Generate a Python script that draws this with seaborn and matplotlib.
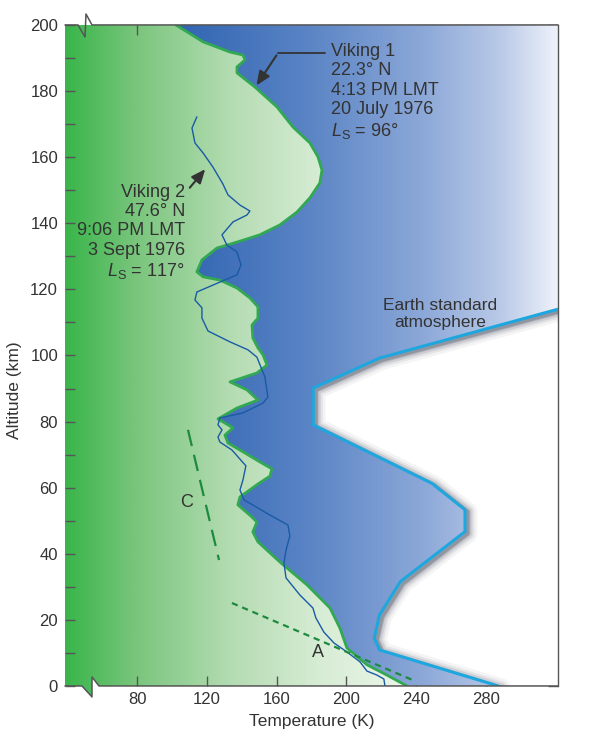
import numpy as np
import matplotlib
matplotlib.use("Agg")
import matplotlib.pyplot as plt
import seaborn as sns
from matplotlib.colors import LinearSegmentedColormap
from matplotlib.patches import Polygon

# Viking 1 profile (edge of the green area), top to bottom
v1_temp = [102.3, 117.8, 133.3, 140.7, 141.9, 137.3, 137.3, 147.6, 160.2, 169.4,
           179.1, 183.7, 186.0, 184.8, 179.1, 171.7, 161.9, 150.4, 137.3, 125.8,
           117.2, 114.3, 117.8, 127.5, 137.3, 144.7, 149.3, 149.3, 145.9, 146.4,
           149.3, 152.2, 154.5, 148.7, 133.3, 143.0, 149.3, 137.3, 126.4, 135.0,
           130.4, 132.1, 139.0, 150.4, 157.3, 156.2, 149.3, 139.0, 137.8, 145.9,
           148.7, 146.4, 149.3, 161.9, 177.4, 190.6, 196.3, 200.3, 211.8, 223.2, 234.7]
v1_alt = [200, 194.9, 191.8, 190.9, 189.4, 187.3, 185.5, 181.2, 175.2, 169.1,
          164.3, 160.1, 156.1, 152.2, 147.7, 143.4, 139.5, 136.5, 134.3, 132.5,
          128.9, 125.3, 123.8, 122.8, 120.4, 117.4, 114.7, 111.3, 109.2, 105.3,
          102.3, 100.2, 97.1, 94.7, 92.0, 89.6, 86.5, 84.1, 80.8, 78.1,
          75.9, 73.5, 71.4, 67.8, 65.7, 63.5, 61.1, 57.2, 54.8, 51.1,
          49.6, 46.6, 43.6, 37.5, 30.6, 23.6, 17.5, 11.5, 6.4, 3.3, 0]

# Viking 2 profile (thin blue line), top to bottom
v2_temp = [114.3, 111.5, 113.2, 117.8, 123.5, 129.2, 132.1, 139.0, 144.7, 143.0,
           135.0, 128.7, 131.5, 137.3, 139.6, 137.3, 127.5, 114.3, 113.2, 117.2,
           117.2, 120.7, 133.3, 143.6, 148.7, 153.3, 155.0, 152.2, 140.7, 127.5,
           126.4, 128.7, 126.4, 127.5, 134.4, 142.4, 140.7, 139.0, 141.3, 148.2,
           156.2, 166.5, 167.6, 165.4, 164.2, 165.4, 173.4, 180.8, 182.5, 187.1,
           192.9, 200.3, 207.8, 211.8, 217.5, 221.5, 222.1]
v2_alt = [172.2, 168.8, 164.3, 161.3, 157.0, 151.9, 148.6, 145.5, 143.7, 142.5,
          140.4, 136.5, 133.4, 131.3, 127.4, 124.4, 122.2, 119.2, 116.8, 114.4,
          111.3, 107.4, 104.1, 101.7, 99.5, 93.5, 87.4, 85.6, 82.6, 81.1,
          79.0, 77.5, 75.3, 73.8, 71.4, 66.6, 62.3, 59.3, 56.3, 54.2,
          51.7, 48.7, 45.4, 41.1, 37.2, 32.7, 27.5, 23.6, 20.6, 16.3,
          13.0, 10.3, 7.3, 4.5, 3.3, 2.1, 0]

# Earth standard atmosphere, bottom to top
earth_temp = [287, 219, 216, 219, 231, 268, 268, 249, 181, 181, 219, 321.3]
earth_alt = [0, 10.9, 14.5, 21.5, 31.6, 46.7, 53.3, 61.3, 79, 90.1, 99.2, 114]

# dashed model lines
c_temp = [109.2, 127.0]
c_alt = [77.5, 38.1]
a_temp = [134.4, 239.3]
a_alt = [25.1, 1.5]

x_ticks = [80, 120, 160, 200, 240, 280]
y_ticks = list(range(0, 201, 20))
y_minor = list(range(10, 200, 20))
t_min, t_max = 38.7, 321.3

sns.set_theme(style="white")
plt.rcParams['font.family'] = ['Liberation Sans', 'DejaVu Sans']
plt.rcParams['mathtext.fontset'] = 'custom'
plt.rcParams['mathtext.rm'] = 'Liberation Sans'
plt.rcParams['mathtext.it'] = 'Liberation Sans:italic'
plt.rcParams['lines.scale_dashes'] = False
txt = '#333333'

fig = plt.figure(figsize=(6, 7.38), dpi=100)
ax = fig.add_axes([0.1083, 0.0705, 0.8217, 0.8957])
ax.set_xlim(t_min, t_max)
ax.set_ylim(0, 200)

grad = np.linspace(t_min, t_max, 500).reshape(1, -1)

# green background gradient
greens = LinearSegmentedColormap.from_list(
    'g', [(0, '#3ab54a'), (0.2, '#7cc67f'), (0.45, '#b4dcb2'), (0.7, '#d8edd5'), (1, '#f0f8ef')])
ax.imshow(grad, extent=[t_min, t_max, 0, 200], aspect='auto', cmap=greens,
          vmin=t_min, vmax=250, zorder=0)

# blue gradient between Viking 1 and the Earth profile
blues = LinearSegmentedColormap.from_list(
    'b', [(0, '#2f63b1'), (0.35, '#5a84c5'), (0.65, '#8ca8d8'), (0.85, '#b9c9e7'), (1, '#eef2fa')])
bimg = ax.imshow(grad, extent=[t_min, t_max, 0, 200], aspect='auto', cmap=blues,
                 vmin=100, vmax=t_max, zorder=1)
blue_pts = list(zip(v1_temp[::-1], v1_alt[::-1])) + [(t_max, 200)] + \
    list(zip(earth_temp[::-1], earth_alt[::-1]))
blue_poly = Polygon(blue_pts, closed=True, transform=ax.transData, facecolor='none', edgecolor='none')
ax.add_patch(blue_poly)
bimg.set_clip_path(blue_poly)

# white area right of the Earth profile
white_pts = list(zip(earth_temp, earth_alt)) + [(t_max, 0)]
white_poly = Polygon(white_pts, closed=True, facecolor='white', edgecolor='none', zorder=2)
ax.add_patch(white_poly)

# soft inner shadow along the Earth profile
for lw, al in [(14, 0.05), (10, 0.08), (7, 0.12), (4, 0.18), (2.5, 0.22)]:
    sh, = ax.plot(np.array(earth_temp) + 1.5, np.array(earth_alt) - 0.6, color='#2a3248',
                  lw=lw, alpha=al, solid_joinstyle='round', zorder=3)
    sh.set_clip_path(white_poly)

sns.lineplot(x=earth_temp, y=earth_alt, sort=False, estimator=None, color='#1ea6de',
             lw=2.2, ax=ax, zorder=4)
sns.lineplot(x=v1_temp, y=v1_alt, sort=False, estimator=None, color='#33a852',
             lw=2.0, ax=ax, zorder=4)
sns.lineplot(x=v2_temp, y=v2_alt, sort=False, estimator=None, color='#1a5aa6',
             lw=1.0, ax=ax, zorder=5)
ax.plot(c_temp, c_alt, color='#1d8a40', lw=1.6, dashes=(12, 6.5), zorder=5)
ax.plot(a_temp, a_alt, color='#1d8a40', lw=1.6, dashes=(4.5, 3.5), zorder=5)

# annotations
ax.text(191, 194.5, 'Viking 1\n22.3° N\n4:13 PM LMT\n20 July 1976\n$L_{\\mathrm{S}}$ = 96°',
        ha='left', va='top', fontsize=13, color=txt, linespacing=1.18, zorder=6)
ax.plot([187.7, 160.8], [191.5, 191.5], color='#333333', lw=1.3, zorder=6)
ax.annotate('', xy=(147.6, 181), xytext=(160.8, 191.5),
            arrowprops=dict(arrowstyle='-|>,head_length=0.7,head_width=0.3', color='#333333', lw=1.5),
            zorder=6)
ax.text(107.5, 152, 'Viking 2\n47.6° N\n9:06 PM LMT\n3 Sept 1976\n$L_{\\mathrm{S}}$ = 117°',
        ha='right', va='top', fontsize=13, color=txt, linespacing=1.18, multialignment='right', zorder=6)
ax.annotate('', xy=(120.1, 157.0), xytext=(109.2, 150.1),
            arrowprops=dict(arrowstyle='-|>,head_length=0.7,head_width=0.3', color='#333333', lw=1.5),
            zorder=6)
ax.text(253.6, 112.6, 'Earth standard\natmosphere', ha='center', va='center', fontsize=12.5,
        color=txt, linespacing=1.18, zorder=6)
ax.text(108.6, 55.4, 'C', ha='center', va='center', fontsize=13, color=txt, zorder=6)
ax.text(183.9, 10.0, 'A', ha='center', va='center', fontsize=13, color=txt, zorder=6)

# axes, ticks
ax.set_xticks(x_ticks)
ax.set_yticks(y_ticks)
ax.set_yticks(y_minor, minor=True)
ax.tick_params(axis='both', which='both', direction='in', length=7, width=1, colors='#555555',
               labelcolor=txt, labelsize=12, top=True, right=True, left=True, bottom=True, pad=5)
ax.tick_params(axis='x', pad=4)
for s in ['left', 'top', 'bottom']:
    ax.spines[s].set_visible(False)
ax.spines['right'].set_color('#555555')
ax.spines['right'].set_linewidth(1)

# broken axis lines
top_line = [(0, 1), (0.0264, 1), (0.0406, 0.9818), (0.0426, 1.0166), (0.0548, 1), (1, 1)]
bot_line = [(0, 0), (0.0345, 0), (0.0548, -0.0166), (0.0548, 0.0136), (0.069, 0), (1, 0)]
ax.add_patch(Polygon([(0.0345, 0), (0.0548, -0.0166), (0.0548, 0)], closed=True,
                     transform=ax.transAxes, facecolor='#4cb95a', edgecolor='none', clip_on=False, zorder=7))
ax.add_patch(Polygon([(0.0548, 0), (0.0548, 0.0136), (0.069, 0)], closed=True,
                     transform=ax.transAxes, facecolor='white', edgecolor='none', clip_on=False, zorder=7))
for pts in [top_line, bot_line]:
    xs, ys = zip(*pts)
    ax.plot(xs, ys, transform=ax.transAxes, color='#555555', lw=1.1, clip_on=False, zorder=8)

ax.set_xlabel('Temperature (K)', fontsize=12.5, color=txt, va='center')
ax.xaxis.set_label_coords(0.5, -0.0545)
ax.set_ylabel('Altitude (km)', fontsize=12.5, color=txt, va='center')
ax.yaxis.set_label_coords(-0.1034, 0.448)

fig.savefig('out.png', dpi=100)
